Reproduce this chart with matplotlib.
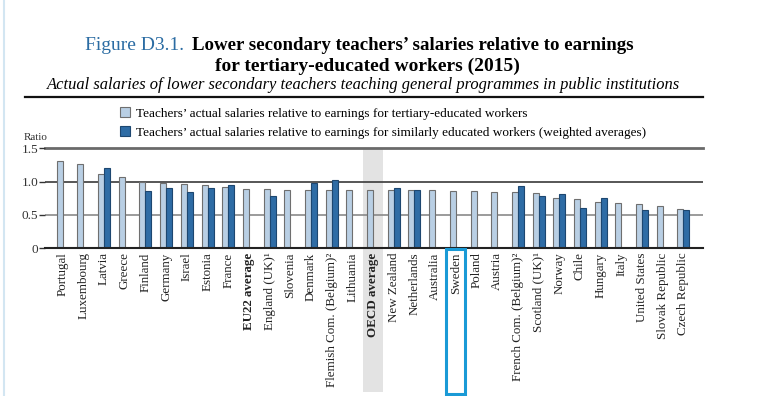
import numpy as np
import matplotlib.pyplot as plt
from matplotlib.patches import Rectangle
from matplotlib.lines import Line2D

# Figure D3.1 - teachers' salaries relative to earnings (2015)

countries = ["Portugal", "Luxembourg", "Latvia", "Greece", "Finland", "Germany",
             "Israel", "Estonia", "France", "EU22 average", "England (UK)\u00b9",
             "Slovenia", "Denmark", "Flemish Com. (Belgium)\u00b2", "Lithuania",
             "OECD average", "New Zealand", "Netherlands", "Australia", "Sweden",
             "Poland", "Austria", "French Com. (Belgium)\u00b2", "Scotland (UK)\u00b9",
             "Norway", "Chile", "Hungary", "Italy", "United States",
             "Slovak Republic", "Czech Republic"]

tertiary = [1.31, 1.26, 1.11, 1.07, 1.00, 0.985, 0.97, 0.944, 0.914, 0.895, 0.895,
            0.88, 0.88, 0.88, 0.88, 0.875, 0.875, 0.88, 0.875, 0.864, 0.854, 0.85,
            0.845, 0.83, 0.75, 0.745, 0.69, 0.675, 0.66, 0.63, 0.59]

nan = np.nan
similar = [nan, nan, 1.20, nan, 0.86, 0.91, 0.84, 0.90, 0.95, nan, 0.79,
           nan, 0.975, 1.02, nan, nan, 0.905, 0.88, nan, nan, nan, nan,
           0.935, 0.78, 0.815, 0.605, 0.755, nan, 0.575, nan, 0.575]

yticks = [0, 0.5, 1.0, 1.5]
yticklabels = ["0", "0.5", "1.0", "1.5"]

bold_labels = ["EU22 average", "OECD average"]
shaded = "OECD average"
boxed = "Sweden"

LIGHT = "#b9cfe4"
DARK = "#2e6ca5"
BLUE_TXT = "#2b6ca3"

plt.rcParams["font.family"] = ["Liberation Serif", "DejaVu Serif"]

W, H = 775, 396
fig = plt.figure(figsize=(W / 100, H / 100), dpi=100)


def fx(x):
    return x / W


def fy(y):
    return 1 - y / H


# axes in pixel terms: x 45..703, y 148..248
ax = fig.add_axes([fx(45), fy(248.3), (702.7 - 45) / W, 100 / H])

x = np.arange(len(countries))
w = 0.29
ax.bar(x - w / 2, tertiary, width=w, color=LIGHT, edgecolor="#6f6f6f",
       linewidth=0.8, zorder=3,
       label="Teachers\u2019 actual salaries relative to earnings for tertiary-educated workers")
ax.bar(x + w / 2, similar, width=w, color=DARK, edgecolor="#1d4770",
       linewidth=0.8, zorder=3,
       label="Teachers\u2019 actual salaries relative to earnings for similarly educated workers (weighted averages)")

ax.set_xlim(-0.855, len(countries) - 1 + 0.93)
ax.set_ylim(0, 1.5)

# reference lines
ax.axhline(0.5, color="#8a8a8a", lw=1.2, zorder=1)
ax.axhline(1.0, color="#3a3a3a", lw=1.2, zorder=1)
ax.axhline(1.5, color="#6a6a6a", lw=2.0, zorder=1, clip_on=False)

for s in ["top", "right", "left"]:
    ax.spines[s].set_visible(False)
ax.spines["bottom"].set_color("#222222")
ax.spines["bottom"].set_linewidth(1.5)
ax.spines["bottom"].set_zorder(4)

ax.set_yticks(yticks)
ax.set_yticklabels(yticklabels, fontsize=9.5, color="#333333")
ax.tick_params(axis="y", length=4, width=1, color="#333333", pad=1)
ax.set_xticks(x)
ax.set_xticklabels(countries, rotation=90, fontsize=9.4, color="#222222")
ax.tick_params(axis="x", length=0, pad=3)
for lab in ax.get_xticklabels():
    if lab.get_text() in bold_labels:
        lab.set_fontweight("bold")

# grey band behind the OECD average
i = countries.index(shaded)
band = Rectangle((i - 0.475, -1.437), 0.95, 2.437, facecolor="#e3e3e3",
                 edgecolor="none", zorder=0, clip_on=False,
                 transform=ax.get_xaxis_transform())
ax.add_patch(band)

# blue frame around Sweden label
j = countries.index(boxed)
frame = Rectangle((j - 0.465, -1.46), 0.93, 1.45, facecolor="none",
                  edgecolor="#1a9ad6", lw=2.2, zorder=5, clip_on=False,
                  transform=ax.get_xaxis_transform())
ax.add_patch(frame)

ax.legend(loc="upper left", bbox_to_anchor=(fx(120), fy(107)),
          bbox_transform=fig.transFigure, frameon=False, fontsize=9.5,
          handlelength=0.78, handleheight=0.78, handletextpad=0.45,
          labelspacing=0.5, borderaxespad=0, borderpad=0)

fig.text(fx(24), fy(137), "Ratio", fontsize=8, color="#333333", va="center")

# titles
fig.text(fx(85), fy(45), "Figure D3.1.", fontsize=14, color=BLUE_TXT,
         va="center", ha="left")
fig.text(fx(192), fy(45), "Lower secondary teachers\u2019 salaries relative to earnings",
         fontsize=13.6, fontweight="bold", va="center", ha="left")
fig.text(fx(367), fy(66), "for tertiary-educated workers (2015)",
         fontsize=14, fontweight="bold", va="center", ha="center")
fig.text(fx(363), fy(85),
         "Actual salaries of lower secondary teachers teaching general programmes in public institutions",
         fontsize=11.9, fontstyle="italic", va="center", ha="center")
fig.add_artist(Line2D([fx(25), fx(703)], [fy(97), fy(97)], color="#111111",
                      lw=1.6, transform=fig.transFigure))
# faint page edge on the left
fig.add_artist(Line2D([fx(4), fx(4)], [0, 1], color="#d3e6f2", lw=1.5,
                      transform=fig.transFigure))

fig.savefig("out.png", dpi=100)
